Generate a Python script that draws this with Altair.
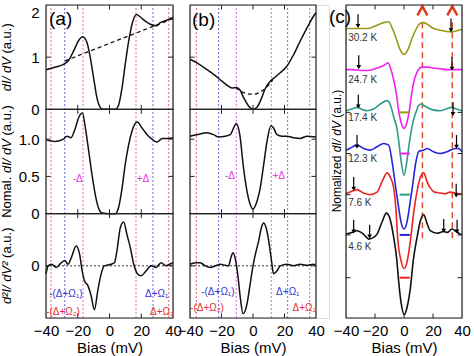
import altair as alt
import pandas as pd

FONT = "Liberation Sans"

# ---------------- panel (a) data ----------------
a_top_x = [-40, -34, -29, -25.7, -22.6, -19.4, -16.9, -14.2, -12.1, -10, -7.9, -5.4, -4, 0, 3.7, 5.8, 7.9, 9.9, 12.1, 14.2, 16.9, 19.4, 22.6, 25.7, 29.5, 32, 36.2, 40]
a_top_y = [0.76, 0.81, 0.86, 0.94, 1.12, 1.32, 1.39, 1.28, 0.99, 0.60, 0.22, 0.02, 0.0, 0.0, 0.0, 0.09, 0.41, 0.86, 1.31, 1.63, 1.82, 1.77, 1.69, 1.63, 1.60, 1.66, 1.71, 1.76]
a_bg_x = [-28, 40]
a_bg_y = [0.93, 1.74]
a_mid_x = [-40, -34, -29, -26.8, -24.3, -21.5, -19.4, -17, -15.2, -13.1, -11, -8.9, -6.8, -4.7, 0, 3.7, 5.8, 7.9, 9.9, 12.1, 14.2, 17.4, 20.5, 23.7, 26.8, 30, 33.2, 37.3, 40]
a_mid_y = [0.99, 0.97, 1.0, 1.04, 1.02, 1.15, 1.29, 1.35, 1.15, 0.84, 0.52, 0.25, 0.07, 0.01, 0.0, 0.0, 0.09, 0.34, 0.66, 0.93, 1.11, 1.23, 1.15, 1.06, 1.0, 0.96, 1.01, 1.01, 1.02]
a_bot_x = [-40, -38.7, -36.6, -33.5, -30.3, -28.2, -26.1, -24, -21, -18.8, -17.2, -15.7, -13.6, -11.6, -9.5, -7.4, -5.3, -3.2, 1, 3.1, 4.7, 6.8, 8.9, 11, 13.1, 15.2, 17.8, 19.9, 23, 26.2, 29.3, 32.5, 35.6, 37.7, 40]
a_bot_y = [-0.16, 0.0, 0.03, -0.03, 0.06, 0.10, 0.03, 0.16, 0.38, 0.22, -0.10, -0.29, -0.38, -0.57, -0.84, -0.48, -0.16, 0.0, 0.03, 0.06, 0.29, 0.73, 0.84, 0.60, 0.35, 0.04, -0.16, -0.19, -0.10, 0.0, -0.03, 0.06, 0.0, 0.03, 0.06]
a_red_x = [-36.9, 37.3]
a_blue_x = [-28.2, 27.4]
a_mag_x = [-16.7, 16.7]
a_ann_text = ["-Δ", "+Δ", "-(Δ+Ω₁)", "-(Δ+Ω₂)", "Δ+Ω₁", "Δ+Ω₂"]
a_ann_x = [-20, 21.1, -27.5, -29.3, 29.7, 33]
a_ann_v = [0.46, 0.46, -0.54, -0.88, -0.54, -0.88]

# ---------------- panel (b) data ----------------
b_top_x = [-40, -35.6, -29.2, -25, -19.7, -15.4, -13.3, -10.8, -8.5, -5.9, -2.7, 0, 2.5, 5.1, 7.8, 11, 14.2, 17.3, 21.6, 25.8, 30, 34.3, 38.5, 40]
b_top_y = [0.96, 0.89, 0.76, 0.67, 0.54, 0.44, 0.41, 0.42, 0.38, 0.22, 0.06, 0.0, 0.04, 0.19, 0.40, 0.54, 0.62, 0.70, 0.83, 1.05, 1.31, 1.56, 1.79, 1.85]
b_bg_x = [-11, -8, -5, -2, 1, 4, 7, 10, 12.5]
b_bg_y = [0.42, 0.35, 0.31, 0.29, 0.29, 0.32, 0.38, 0.47, 0.56]
b_mid_x = [-40, -35.6, -29.2, -25, -22.2, -17.6, -14.4, -12.3, -10.6, -8.4, -6, -3.8, -1.7, 0, 2.1, 4.7, 6.8, 8.9, 11.4, 13.1, 15.2, 18.4, 21.6, 25.8, 30, 34.3, 40]
b_mid_y = [1.04, 1.06, 1.085, 1.06, 1.03, 1.04, 1.06, 1.15, 1.21, 1.06, 0.61, 0.30, 0.12, 0.06, 0.14, 0.36, 0.66, 0.97, 1.18, 1.15, 1.06, 1.04, 1.04, 1.02, 1.01, 1.04, 1.03]
b_bot_x = [-40, -36.6, -33.5, -30.3, -27, -23.9, -20.8, -17.6, -15.6, -14, -12.7, -11.2, -9.7, -8.1, -6.3, -3.8, -2.1, 0, 1.5, 3.6, 5.5, 6.8, 8.4, 10, 12, 13, 15.2, 17.3, 21.6, 25.8, 30, 34.3, 38.5, 40]
b_bot_y = [0.03, 0.06, 0.06, 0.0, -0.03, 0.0, 0.03, 0.01, 0.0, 0.16, 0.25, 0.13, -0.16, -0.60, -0.92, -0.73, -0.41, 0.0, 0.22, 0.48, 0.75, 0.82, 0.72, 0.48, 0.04, -0.15, -0.10, 0.0, 0.03, 0.0, 0.03, 0.01, 0.03, 0.0]
b_red_x = [-36, 36]
b_blue_x = [-21.8, 22]
b_mag_x = [-10.6, 11.6]
b_ann_text = ["-Δ", "+Δ", "-(Δ+Ω₁)", "-(Δ+Ω₂)", "Δ+Ω₁", "Δ+Ω₂"]
b_ann_x = [-14.6, 16.3, -22.3, -29.2, 22.1, 32.7]
b_ann_v = [0.50, 0.50, -0.50, -0.81, -0.50, -0.81]

ann_sub = ["mid", "mid", "bot", "bot", "bot", "bot"]
ann_col = ["#e633e6", "#e633e6", "#3333dd", "#e62e2e", "#3333dd", "#e62e2e"]

# ---------------- panel (c) data ----------------
c_names = ["4.6 K", "7.6 K", "12.3 K", "17.4 K", "24.7 K", "30.2 K"]
c_colors = ["#111111", "#ee2424", "#2424d8", "#2e9c8c", "#ee22ee", "#9a9a1a"]
c_offsets = [0.0, 0.48, 0.99, 1.47, 1.96, 2.45]
c_label_y = [0.85, 1.37, 1.90, 2.38, 2.84, 3.34]
c_x = [
    [-40, -36, -32.4, -28, -24.3, -21, -18.6, -15, -12.2, -10, -7.1, -5, -3.7, -2, 0.2, 2, 4.4, 6.5, 9, 11.5, 13.6, 16, 18.1, 22.7, 27.3, 30, 33.1, 36, 38.8, 40],
    [-40, -36, -32.4, -28, -23.2, -18.6, -15, -11.7, -9, -7.1, -5.5, -4.4, -2, 0, 2, 4.4, 6.5, 9, 11, 13.6, 16, 18.1, 21, 25, 28, 31.9, 35, 38.8, 40],
    [-40, -37.5, -32.4, -27.8, -23.2, -18.6, -14, -10.6, -8, -6, -4, -2, 0, 2, 4, 6, 8, 10.5, 13.6, 15.9, 20.5, 25, 29.6, 35.4, 37.7, 40],
    [-40, -36, -32.4, -28, -25.5, -21, -16.3, -11.7, -9, -7, -5, -3.7, -2, 0, 2, 3.7, 6, 8, 10.5, 12, 14, 16, 20, 25, 29, 33, 36, 40],
    [-40, -35, -30, -25, -20, -14, -11, -9, -7, -5, -3.7, -2, 0, 2, 3.7, 5, 7, 9, 11, 12.4, 16, 20, 25, 30, 35, 40],
    [-40, -30, -25, -18.6, -14, -10.6, -8, -5.4, -3, 0, 3, 5.5, 8, 11, 13.6, 16, 20.5, 25, 32, 36, 40],
]
c_v = [
    [1.0, 1.02, 1.04, 1.0, 0.94, 0.96, 1.0, 1.15, 1.25, 1.2, 0.96, 0.7, 0.44, 0.18, 0.04, 0.12, 0.36, 0.7, 0.96, 1.17, 1.23, 1.12, 1.04, 1.01, 1.03, 1.02, 1.06, 1.03, 1.0, 0.99],
    [1.0, 1.03, 1.05, 1.01, 0.99, 1.02, 1.15, 1.25, 1.18, 1.07, 0.8, 0.48, 0.2, 0.11, 0.18, 0.44, 0.75, 1.03, 1.18, 1.25, 1.14, 1.07, 1.02, 1.01, 1.0, 1.02, 1.01, 1.0, 1.0],
    [1.01, 1.03, 1.07, 1.03, 1.01, 1.05, 1.09, 1.07, 0.85, 0.6, 0.36, 0.15, 0.07, 0.15, 0.36, 0.6, 0.85, 1.0, 1.01, 1.03, 0.99, 0.97, 0.99, 1.03, 1.03, 0.99],
    [1.0, 1.02, 1.04, 1.01, 1.0, 1.02, 1.08, 1.12, 1.05, 0.92, 0.8, 0.65, 0.4, 0.23, 0.4, 0.62, 0.85, 0.97, 1.07, 1.08, 1.06, 1.04, 1.01, 1.0, 1.02, 1.04, 1.02, 1.0],
    [1.0, 1.0, 0.99, 0.99, 1.01, 1.05, 1.08, 1.0, 0.87, 0.68, 0.51, 0.37, 0.30, 0.37, 0.51, 0.68, 0.87, 0.97, 1.02, 1.03, 1.03, 1.02, 1.01, 1.0, 1.0, 1.0],
    [1.0, 1.0, 1.0, 1.04, 1.07, 1.08, 1.0, 0.88, 0.76, 0.69, 0.76, 0.88, 0.98, 1.06, 1.07, 1.05, 1.0, 0.98, 0.96, 0.97, 0.99],
]
arrow_x = [-31.7, 32.4, -31.2, 33.1, -31.5, 33.8, -32.4, 36.2, -34.7, 36.0, -34.7, -23.7, 27.4, 36.6]
arrow_tip = [3.45, 3.40, 2.96, 2.94, 2.49, 2.40, 2.01, 2.01, 1.51, 1.43, 1.00, 0.94, 1.01, 1.00]
mark_x = [12.7, 33.3]
mark_lo = 0.95
mark_hi = 3.55
mark_top = 3.66
c_ymax = 3.73

xtick_vals = [-40, -20, 0, 20, 40]

# ---------------- helpers ----------------
SUB = {"top": (0.0, 2.0, 2), "mid": (0.0, 1.4, 1), "bot": (-1.0, 1.0, 0)}
HEIGHT = 313
TICK_PX = 4.5


def g(v, sub):
    lo, hi, base = SUB[sub]
    return base + (v - lo) / (hi - lo)


DUMMY = pd.DataFrame({"k": [0]})
W = {"N": 722, "o": 556, "m": 833, "a": 556, "l": 222, ".": 278, " ": 278, "d": 556,
     "I": 278, "/": 278, "V": 667, "(": 333, ")": 333, "u": 556, "i": 222, "z": 500,
     "e": 556, "²": 333}


def tw(s, size):
    return sum(W.get(ch, 556) for ch in s) / 1000.0 * size


def vtitle(segments, cx, cy, size):
    space = tw(" ", size)
    total = sum(tw(t, size) for t, _ in segments) + space * (len(segments) - 1)
    pos = cy + total / 2.0
    layers = []
    for t, style in segments:
        layers.append(
            alt.Chart(DUMMY).mark_text(text=t, angle=270, align="left", baseline="middle",
                                       fontSize=size, font=FONT, fontStyle=style, color="black")
            .encode(x=alt.value(cx), y=alt.value(pos))
        )
        pos -= tw(t, size) + space
    return layers


def xaxis():
    return alt.Axis(values=xtick_vals, title="Bias (mV)", domain=False, ticks=False, tickSize=0,
                    grid=False, labelFontSize=15, labelPadding=5, labelFlush=False,
                    labelColor="black", titleColor="black", titleFontSize=15,
                    titleFontWeight="normal", titlePadding=2, labelFont=FONT, titleFont=FONT)


def tick_frames(xs_inner, ylev, ymin, ymax, dy, dx, ytick_pos):
    """Inward tick marks (data rows) for a framed panel."""
    vt = []
    for xv in xs_inner:
        for yv in ylev:
            lo = yv if abs(yv - ymin) < 1e-9 else yv - dy
            hi = yv if abs(yv - ymax) < 1e-9 else yv + dy
            vt.append({"x": xv, "y": lo, "y2": hi})
    ht = []
    for yv in ytick_pos:
        ht.append({"x": -40, "x2": -40 + dx, "y": yv})
        ht.append({"x": 40 - dx, "x2": 40, "y": yv})
    return pd.DataFrame(vt), pd.DataFrame(ht)


def stacked_panel(top, bg, mid, bot, red_x, blue_x, mag_x, ann_x, ann_v, ann_text,
                  label, label_xy, xscale, plot_w, width, show_y, titles):
    X = alt.X("x:Q", scale=xscale, axis=xaxis())
    ypos = [g(0, "bot"), g(0, "mid"), g(0.5, "mid"), g(1.0, "mid"), g(0, "top"), g(1, "top"), g(2, "top")]
    if show_y:
        ylab = ["0", "0", "0.5", "1.0", "0", "1", "2"]
        expr = "''"
        for p, l in zip(reversed(ypos), reversed(ylab)):
            expr = f"abs(datum.value - {p:.4f}) < 0.01 ? '{l}' : ({expr})"
        yax = alt.Axis(values=ypos, labelExpr=expr, title=None, domain=False, ticks=False,
                       tickSize=0, grid=False, labelFontSize=15, labelPadding=7, labelFlush=True,
                       labelOverlap=False, labelColor="black", labelFont=FONT)
    else:
        yax = None
    Y = alt.Y("g:Q", scale=alt.Scale(domain=[0, 3], nice=False, zero=False), axis=yax)

    rows = []
    for sub, (xs, vs) in zip(["top", "mid", "bot"], [top, mid, bot]):
        for xv, vv in zip(xs, vs):
            rows.append({"x": xv, "g": g(vv, sub), "s": sub})
    cdf = pd.DataFrame(rows)
    bdf = pd.DataFrame({"x": bg[0], "g": [g(v, "top") for v in bg[1]]})

    vx = red_x + blue_x + mag_x
    vc = ["#e06a6a"] * len(red_x) + ["#6a6ae0"] * len(blue_x) + ["#d86ad8"] * len(mag_x)
    vdf = pd.DataFrame({"x": vx, "c": vc, "g": [0.0] * len(vx), "g2": [3.0] * len(vx)})

    fdf = pd.DataFrame({"x": [-40] * 3, "x2": [40] * 3, "g": [0.0, 1.0, 2.0], "g2": [1.0, 2.0, 3.0]})
    zdf = pd.DataFrame({"x": [-40], "x2": [40], "g": [g(0, "bot")]})
    ytk = [p for p in ypos if abs(p - round(p)) > 0.01]
    vt, ht = tick_frames([-20, 0, 20], [0.0, 1.0, 2.0, 3.0], 0.0, 3.0,
                         TICK_PX * 3.0 / HEIGHT, TICK_PX * 80.0 / plot_w, ytk)
    vt = vt.rename(columns={"y": "g", "y2": "g2"})
    ht = ht.rename(columns={"y": "g"})
    adf = pd.DataFrame({"x": ann_x, "g": [g(v, s) for v, s in zip(ann_v, ann_sub)],
                        "t": ann_text, "c": ann_col})

    layers = [
        alt.Chart(vdf).mark_rule(strokeDash=[2, 2], strokeWidth=1).encode(
            x=X, y=Y, y2=alt.Y2("g2:Q"), color=alt.Color("c:N", scale=None)),
        alt.Chart(zdf).mark_rule(strokeDash=[2, 2], strokeWidth=1, color="#333333").encode(
            x=X, x2=alt.X2("x2:Q"), y=Y),
        alt.Chart(bdf).mark_line(strokeDash=[4, 3], strokeWidth=1.3, color="#111111",
                                 interpolate="monotone").encode(x=X, y=Y),
        alt.Chart(cdf).mark_line(strokeWidth=1.5, color="#111111", interpolate="monotone").encode(
            x=X, y=Y, detail="s:N"),
        alt.Chart(fdf).mark_rect(fillOpacity=0, stroke="#222222", strokeWidth=1.2).encode(
            x=X, x2=alt.X2("x2:Q"), y=Y, y2=alt.Y2("g2:Q")),
        alt.Chart(vt).mark_rule(strokeWidth=1, color="#222222").encode(x=X, y=Y, y2=alt.Y2("g2:Q")),
        alt.Chart(ht).mark_rule(strokeWidth=1, color="#222222").encode(x=X, x2=alt.X2("x2:Q"), y=Y),
        alt.Chart(adf).mark_text(fontSize=10, font=FONT).encode(
            x=X, y=Y, text="t:N", color=alt.Color("c:N", scale=None)),
        alt.Chart(DUMMY).mark_text(text=label, align="left", baseline="middle", fontSize=19,
                                   font=FONT, color="black").encode(
            x=alt.value(label_xy[0]), y=alt.value(label_xy[1])),
    ]
    layers += titles
    return alt.layer(*layers).properties(width=width, height=HEIGHT)


sub_h = HEIGHT / 3.0
a_titles = (
    vtitle([("dI/ dV", "italic"), ("(a.u.)", "normal")], -39, sub_h * 0.5, 13)
    + vtitle([("Nomal.", "normal"), ("dI/ dV", "italic"), ("(a.u.)", "normal")], -39, sub_h * 1.5, 13)
    + vtitle([("d²I/ dV²", "italic"), ("(a.u.)", "normal")], -39, sub_h * 2.5, 13)
)

a_panel = stacked_panel((a_top_x, a_top_y), (a_bg_x, a_bg_y), (a_mid_x, a_mid_y), (a_bot_x, a_bot_y),
                        a_red_x, a_blue_x, a_mag_x, a_ann_x, a_ann_v, a_ann_text,
                        "(a)", (3, 14), alt.Scale(domain=[-40, 40], nice=False, zero=False),
                        127, 127, True, a_titles)
b_panel = stacked_panel((b_top_x, b_top_y), (b_bg_x, b_bg_y), (b_mid_x, b_mid_y), (b_bot_x, b_bot_y),
                        b_red_x, b_blue_x, b_mag_x, b_ann_x, b_ann_v, b_ann_text,
                        "(b)", (2, 15), alt.Scale(domain=[-40, 40], range=[0, 126], nice=False, zero=False),
                        126, 139, False, [])

# ---------------- panel (c) ----------------
Xc = alt.X("x:Q", scale=alt.Scale(domain=[-40, 40], nice=False, zero=False), axis=xaxis())
Yc = alt.Y("y:Q", scale=alt.Scale(domain=[0, c_ymax], nice=False, zero=False), axis=None)
col_scale = alt.Scale(domain=c_names, range=c_colors)

crows = []
for name, off, xs, vs in zip(c_names, c_offsets, c_x, c_v):
    for xv, vv in zip(xs, vs):
        crows.append({"x": xv, "y": vv + off, "s": name})
ccdf = pd.DataFrame(crows)
zb = pd.DataFrame({"x": [-3] * 5, "x2": [4] * 5, "y": c_offsets[1:], "s": c_names[1:]})
lab = pd.DataFrame({"x": [-38.5] * 6, "y": c_label_y, "t": c_names})
adf_c = pd.DataFrame({"x": arrow_x, "y": [t + 0.03 for t in arrow_tip], "y2": [t + 0.17 for t in arrow_tip]})
mdf = pd.DataFrame({"x": mark_x, "y": [mark_lo] * 2, "y2": [mark_hi] * 2})
chev = pd.DataFrame({"x": mark_x, "y": [mark_top] * 2})
cf = pd.DataFrame({"x": [-40], "x2": [40], "y": [0.0], "y2": [c_ymax]})
cvt, cht = tick_frames([-20, 0, 20], [0.0, c_ymax], 0.0, c_ymax,
                       TICK_PX * c_ymax / HEIGHT, TICK_PX * 80.0 / 116, c_offsets[1:])

c_layers = [
    alt.Chart(mdf).mark_rule(strokeDash=[6, 4], strokeWidth=1.5, color="#e04a2a").encode(
        x=Xc, y=Yc, y2=alt.Y2("y2:Q")),
    alt.Chart(ccdf).mark_line(strokeWidth=1.6, interpolate="monotone").encode(
        x=Xc, y=Yc, color=alt.Color("s:N", scale=col_scale, legend=None), detail="s:N"),
    alt.Chart(zb).mark_rule(strokeWidth=2).encode(
        x=Xc, x2=alt.X2("x2:Q"), y=Yc, color=alt.Color("s:N", scale=col_scale, legend=None)),
    alt.Chart(lab).mark_text(align="left", baseline="middle", fontSize=10, font=FONT, color="#333333").encode(
        x=Xc, y=Yc, text="t:N"),
    alt.Chart(adf_c).mark_rule(strokeWidth=1.2, color="black").encode(x=Xc, y=Yc, y2=alt.Y2("y2:Q")),
    alt.Chart(adf_c).mark_point(shape="triangle-down", filled=True, size=22, color="black", opacity=1).encode(
        x=Xc, y=Yc),
    alt.Chart(chev).mark_point(shape="M-1,0.9L0,-0.9L1,0.9", filled=False, size=100, strokeWidth=2.5,
                               color="#dd3a1a", opacity=1).encode(x=Xc, y=Yc),
    alt.Chart(cf).mark_rect(fillOpacity=0, stroke="#222222", strokeWidth=1.2).encode(
        x=Xc, x2=alt.X2("x2:Q"), y=Yc, y2=alt.Y2("y2:Q")),
    alt.Chart(cvt).mark_rule(strokeWidth=1, color="#222222").encode(x=Xc, y=Yc, y2=alt.Y2("y2:Q")),
    alt.Chart(cht).mark_rule(strokeWidth=1, color="#222222").encode(x=Xc, x2=alt.X2("x2:Q"), y=Yc),
    alt.Chart(DUMMY).mark_text(text="(c)", align="left", baseline="middle", fontSize=19, font=FONT,
                               color="black").encode(x=alt.value(-17), y=alt.value(12)),
]
c_layers += vtitle([("Nomalized", "normal"), ("dI/ dV", "italic"), ("(a.u.)", "normal")], -9, 146, 12)
c_panel = alt.layer(*c_layers).properties(width=116, height=HEIGHT)

chart = (
    alt.hconcat(a_panel, b_panel, c_panel, spacing=17, bounds="flush")
    .properties(padding={"left": 0, "top": 0, "right": 0, "bottom": 0})
    .configure_view(stroke=None)
    .configure(font=FONT)
)

chart.save("out.html", embed_options={"renderer": "svg", "actions": False})
